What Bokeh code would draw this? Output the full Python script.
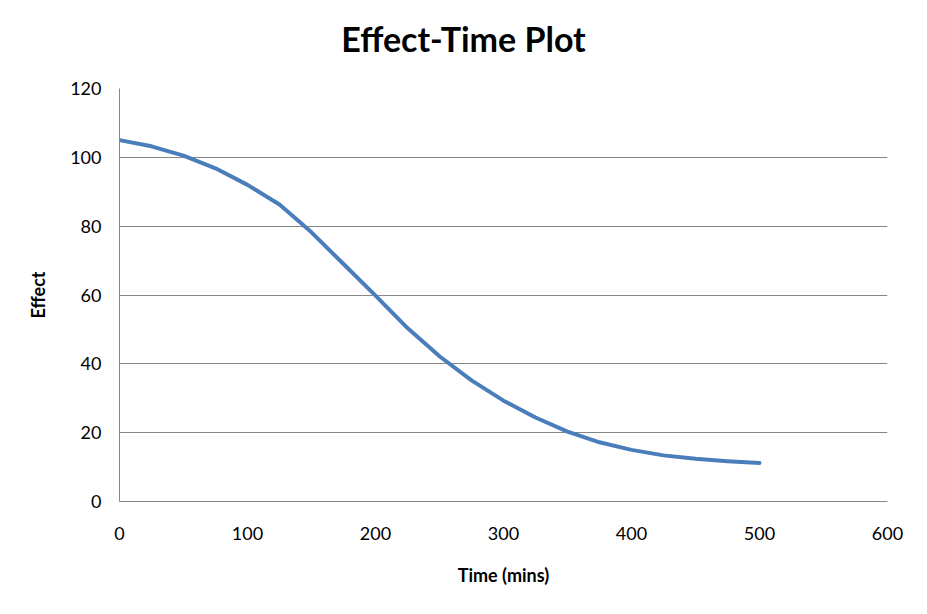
from bokeh.plotting import figure
from bokeh.models import Range1d, FixedTicker, Div
from bokeh.layouts import column
from bokeh.embed import file_html
from bokeh.resources import INLINE

time_mins = [0, 25, 50, 75, 100, 125, 150, 175, 200, 225, 250, 275, 300,
             325, 350, 375, 400, 425, 450, 475, 500]
effect = [105, 103.2, 100.5, 96.8, 92, 86.3, 78.2, 69, 59.8, 50.4, 42.2, 35.2, 29.3,
          24.4, 20.3, 17.2, 15, 13.4, 12.4, 11.7, 11.2]

x_ticks = [0, 100, 200, 300, 400, 500, 600]
y_ticks = [0, 20, 40, 60, 80, 100, 120]

TITLE = "Effect-Time Plot"
FONT = "Lato"
GRAY = "#868686"

TITLE_H = 60
title = Div(
    text=('<div style="font-family: Lato; font-size: 34px; font-weight: bold; '
          'line-height: 34px; color: black; text-align: center; '
          'width: 927px; padding-top: 22px;">' + TITLE + '</div>'),
    width=919, height=TITLE_H, margin=0)

p = figure(frame_width=768, frame_height=413,
           min_border_left=119, min_border_right=32,
           min_border_top=88 - TITLE_H, min_border_bottom=105,
           x_range=Range1d(0, 600), y_range=Range1d(0, 120),
           output_backend="svg", toolbar_location=None, margin=0)

p.line(time_mins, effect, line_color="#4a7ebb", line_width=4,
       line_join="round", line_cap="round")

p.outline_line_color = None
p.xgrid.grid_line_color = None
p.ygrid.grid_line_color = GRAY
p.ygrid.grid_line_width = 1

for ax in (p.xaxis, p.yaxis):
    ax.axis_line_color = GRAY
    ax.major_tick_line_color = None
    ax.minor_tick_line_color = None
    ax.major_tick_out = 0
    ax.major_tick_in = 0
    ax.major_label_text_font = FONT
    ax.major_label_text_font_size = "18px"
    ax.major_label_text_color = "black"
    ax.axis_label_text_font = FONT
    ax.axis_label_text_font_size = "18px"
    ax.axis_label_text_font_style = "bold"
    ax.axis_label_text_color = "black"

p.xaxis.ticker = FixedTicker(ticks=x_ticks)
p.yaxis.ticker = FixedTicker(ticks=y_ticks)
p.xaxis.axis_label = "Time (mins)"
p.yaxis.axis_label = "Effect"
p.xaxis.major_label_standoff = 25
p.yaxis.major_label_standoff = 18
p.xaxis.axis_label_standoff = 21
p.yaxis.axis_label_standoff = 18

layout = column(title, p, spacing=0, margin=0)
open("out.html", "w").write(file_html(layout, INLINE))
